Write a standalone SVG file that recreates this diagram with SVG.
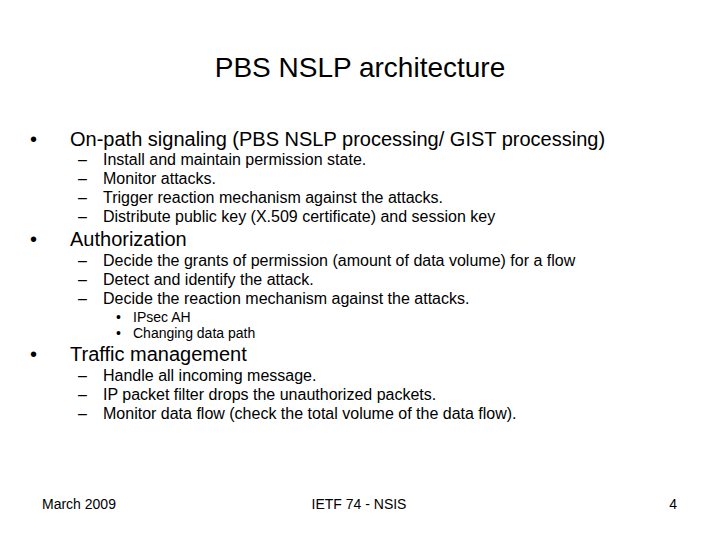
<svg xmlns="http://www.w3.org/2000/svg" width="720" height="540" viewBox="0 0 720 540">
<style>
text{font-family:"Liberation Sans",Arial,sans-serif;fill:#000}
.t{font-size:28px}.l1{font-size:20px}.l2{font-size:16px}.l3{font-size:14px}.f{font-size:14px}
</style>
<rect width="720" height="540" fill="#fff"/>
<text class="t" x="360" y="77" text-anchor="middle">PBS NSLP architecture</text>
<g class="l1">
<text x="30" y="146">•</text><text x="70" y="146">On-path signaling (PBS NSLP processing/ GIST processing)</text>
<text x="30" y="246">•</text><text x="70" y="246">Authorization</text>
<text x="30" y="361">•</text><text x="70" y="361">Traffic management</text>
</g>
<g class="l2">
<text x="78" y="165">–</text><text x="103" y="165">Install and maintain permission state.</text>
<text x="78" y="184">–</text><text x="103" y="184">Monitor attacks.</text>
<text x="78" y="203">–</text><text x="103" y="203">Trigger reaction mechanism against the attacks.</text>
<text x="78" y="222">–</text><text x="103" y="222">Distribute public key (X.509 certificate) and session key</text>
<text x="78" y="266">–</text><text x="103" y="266">Decide the grants of permission (amount of data volume) for a flow</text>
<text x="78" y="285">–</text><text x="103" y="285">Detect and identify the attack.</text>
<text x="78" y="304">–</text><text x="103" y="304">Decide the reaction mechanism against the attacks.</text>
<text x="78" y="381">–</text><text x="103" y="381">Handle all incoming message.</text>
<text x="78" y="400">–</text><text x="103" y="400">IP packet filter drops the unauthorized packets.</text>
<text x="78" y="419">–</text><text x="103" y="419">Monitor data flow (check the total volume of the data flow).</text>
</g>
<g class="l3">
<text x="116" y="322">•</text><text x="133" y="322">IPsec AH</text>
<text x="116" y="338">•</text><text x="133" y="338">Changing data path</text>
</g>
<g class="f">
<text x="42" y="509">March 2009</text>
<text x="359" y="509" text-anchor="middle">IETF 74 - NSIS</text>
<text x="677" y="509" text-anchor="end">4</text>
</g>
</svg>
